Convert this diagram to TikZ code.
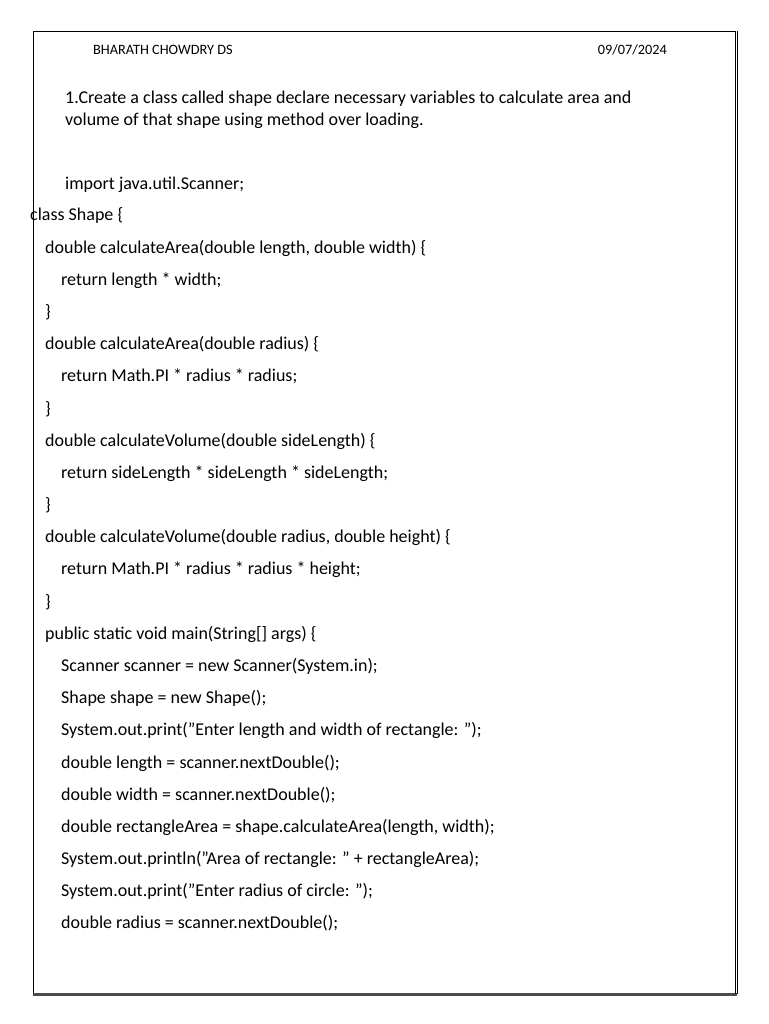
\documentclass[tikz,border=0pt]{standalone}
\usepackage{fontspec}
\setmainfont{Carlito}
\newcommand{\q}{\symbol{34}}
\begin{document}
\begin{tikzpicture}[x=1pt,y=-1pt,
  txt/.style={anchor=base west,inner sep=0pt,font=\fontsize{18}{21}\selectfont},
  hdr/.style={inner sep=0pt,font=\fontsize{14.3}{16}\selectfont}]
\useasboundingbox (0,0) rectangle (768,1024);
\fill[white] (0,0) rectangle (768,1024);
\draw[gray!60!black,line width=3pt] (33,994) -- (737,994);
\draw[line width=0.8pt] (735,31) -- (735,994);
\draw[line width=0.6pt] (737.5,31) -- (737.5,994);
\draw[line width=0.8pt] (33,993) -- (33,31) -- (735,31);
\node[hdr,anchor=base west] (name) at (93,55) {BHARATH CHOWDRY DS};
\node[hdr,anchor=base east] (date) at (667,55) {09/07/2024};
\node[txt] (q1) at (65,104) {1.Create a class called shape declare necessary variables to calculate area and};
\node[txt] (q2) at (65,126) {volume of that shape using method over loading.};
\node[txt] (imp) at (65,190) {import java.util.Scanner;};
\foreach \t [count=\i from 0] in {
 {\hspace*{-15pt}class Shape \{},
 {double calculateArea(double length, double width) \{},
 {\hspace*{16pt}return length * width;},
 {\}},
 {double calculateArea(double radius) \{},
 {\hspace*{16pt}return Math.PI * radius * radius;},
 {\}},
 {double calculateVolume(double sideLength) \{},
 {\hspace*{16pt}return sideLength * sideLength * sideLength;},
 {\}},
 {double calculateVolume(double radius, double height) \{},
 {\hspace*{16pt}return Math.PI * radius * radius * height;},
 {\}},
 {public static void main(String[] args) \{},
 {\hspace*{16pt}Scanner scanner = new Scanner(System.in);},
 {\hspace*{16pt}Shape shape = new Shape();},
 {\hspace*{16pt}System.out.print(\q Enter length and width of rectangle: \q);},
 {\hspace*{16pt}double length = scanner.nextDouble();},
 {\hspace*{16pt}double width = scanner.nextDouble();},
 {\hspace*{16pt}double rectangleArea = shape.calculateArea(length, width);},
 {\hspace*{16pt}System.out.println(\q Area of rectangle: \q\ + rectangleArea);},
 {\hspace*{16pt}System.out.print(\q Enter radius of circle: \q);},
 {\hspace*{16pt}double radius = scanner.nextDouble();}}
 \node[txt] (l\i) at (45,{221+32.18*\i}) {\t};
\end{tikzpicture}
\end{document}
